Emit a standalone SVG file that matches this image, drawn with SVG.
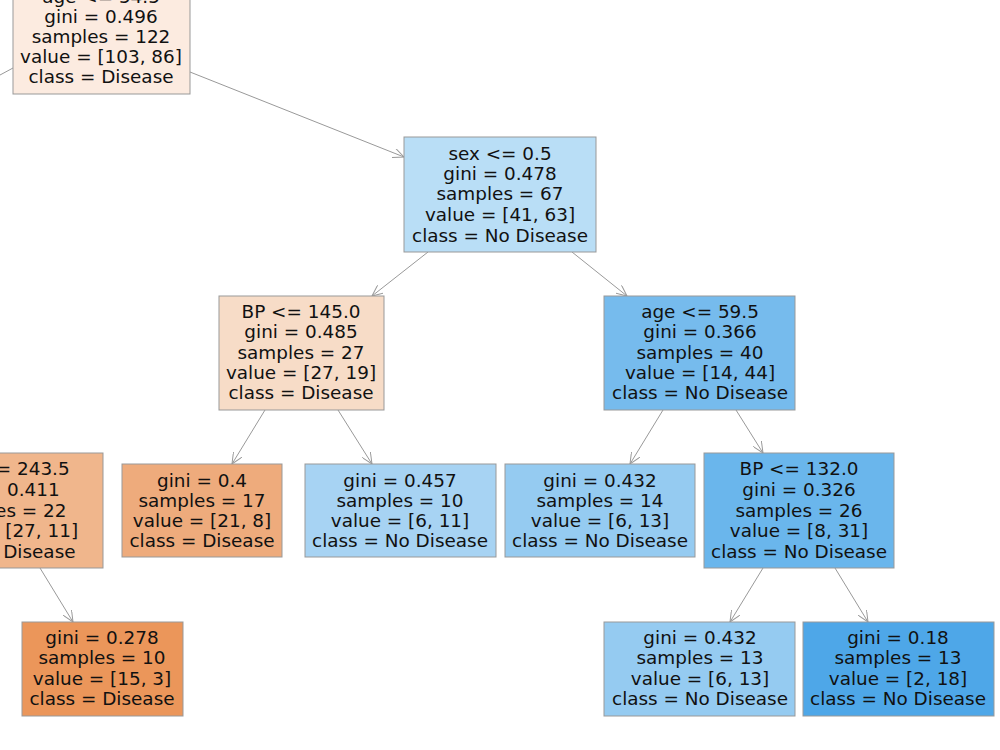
<svg xmlns="http://www.w3.org/2000/svg" width="1000" height="750" viewBox="0 0 1000 750">
<style>
rect{stroke:#999;stroke-width:1}
text{font-family:"DejaVu Sans",sans-serif;font-size:18.4px;fill:#111;text-anchor:middle;dominant-baseline:central}
line{stroke:#999;stroke-width:1;marker-end:url(#a)}
</style>
<defs><marker id="a" markerWidth="12" markerHeight="10" refX="11" refY="5" orient="auto" markerUnits="userSpaceOnUse"><path d="M0,0L11,5L0,10" fill="none" stroke="#999"/></marker></defs>
<rect width="1000" height="750" fill="#fff" style="stroke:none"/>
<g id="edges">
<path d="M0,75L13,68" stroke="#999" fill="none"/>
<line x1="190" y1="72" x2="404" y2="157"/>
<line x1="428" y1="252" x2="372" y2="296"/>
<line x1="572" y1="252" x2="627" y2="296"/>
<line x1="265" y1="410" x2="232" y2="464"/>
<line x1="338" y1="410" x2="372" y2="464"/>
<line x1="663" y1="410" x2="630" y2="464"/>
<line x1="736" y1="410" x2="763" y2="453"/>
<line x1="40" y1="568" x2="73" y2="622"/>
<line x1="763" y1="568" x2="730" y2="622"/>
<line x1="835" y1="568" x2="868" y2="622"/>
</g>
<g id="n_top"><rect x="13" y="-20" width="177" height="114" fill="#fcebe0"/>
<text x="101" y="-4">age &lt;= 54.5</text><text x="101" y="16">gini = 0.496</text><text x="101" y="36">samples = 122</text><text x="101" y="56">value = [103, 86]</text><text x="101" y="76">class = Disease</text></g>
<g id="n_sex"><rect x="404" y="137" width="192" height="115" fill="#b9def6"/>
<text x="500" y="153">sex &lt;= 0.5</text><text x="500" y="173">gini = 0.478</text><text x="500" y="193">samples = 67</text><text x="500" y="214">value = [41, 63]</text><text x="500" y="235">class = No Disease</text></g>
<g id="n_bp145"><rect x="219" y="296" width="165" height="114" fill="#f7dcc7"/>
<text x="301" y="311">BP &lt;= 145.0</text><text x="301" y="331">gini = 0.485</text><text x="301" y="352">samples = 27</text><text x="301" y="372">value = [27, 19]</text><text x="301" y="392">class = Disease</text></g>
<g id="n_age595"><rect x="604" y="296" width="191" height="114" fill="#76bbed"/>
<text x="700" y="311">age &lt;= 59.5</text><text x="700" y="331">gini = 0.366</text><text x="700" y="352">samples = 40</text><text x="700" y="372">value = [14, 44]</text><text x="700" y="392">class = No Disease</text></g>
<g id="n_chol"><rect x="-80" y="453" width="183" height="115" fill="#f0b68c"/>
<text x="3" y="468">chol &lt;= 243.5</text><text x="3" y="489">gini = 0.411</text><text x="3" y="510">samples = 22</text><text x="3" y="530">value = [27, 11]</text><text x="3" y="551">class = Disease</text></g>
<g id="n_04"><rect x="122" y="464" width="160" height="93" fill="#eeab7c"/>
<text x="202" y="480">gini = 0.4</text><text x="202" y="500">samples = 17</text><text x="202" y="520">value = [21, 8]</text><text x="202" y="540">class = Disease</text></g>
<g id="n_0457"><rect x="305" y="464" width="191" height="93" fill="#a7d3f3"/>
<text x="400" y="480">gini = 0.457</text><text x="400" y="500">samples = 10</text><text x="400" y="520">value = [6, 11]</text><text x="400" y="540">class = No Disease</text></g>
<g id="n_0432a"><rect x="505" y="464" width="190" height="93" fill="#95cbf1"/>
<text x="600" y="480">gini = 0.432</text><text x="600" y="500">samples = 14</text><text x="600" y="520">value = [6, 13]</text><text x="600" y="540">class = No Disease</text></g>
<g id="n_bp132"><rect x="704" y="453" width="190" height="115" fill="#6ab6ec"/>
<text x="799" y="468">BP &lt;= 132.0</text><text x="799" y="489">gini = 0.326</text><text x="799" y="510">samples = 26</text><text x="799" y="530">value = [8, 31]</text><text x="799" y="551">class = No Disease</text></g>
<g id="n_0278"><rect x="22" y="622" width="161" height="94" fill="#eb965a"/>
<text x="102" y="637">gini = 0.278</text><text x="102" y="657">samples = 10</text><text x="102" y="678">value = [15, 3]</text><text x="102" y="698">class = Disease</text></g>
<g id="n_0432b"><rect x="604" y="622" width="191" height="94" fill="#95cbf1"/>
<text x="700" y="637">gini = 0.432</text><text x="700" y="657">samples = 13</text><text x="700" y="678">value = [6, 13]</text><text x="700" y="698">class = No Disease</text></g>
<g id="n_018"><rect x="803" y="622" width="191" height="94" fill="#4ea7e8"/>
<text x="898" y="637">gini = 0.18</text><text x="898" y="657">samples = 13</text><text x="898" y="678">value = [2, 18]</text><text x="898" y="698">class = No Disease</text></g>
</svg>
